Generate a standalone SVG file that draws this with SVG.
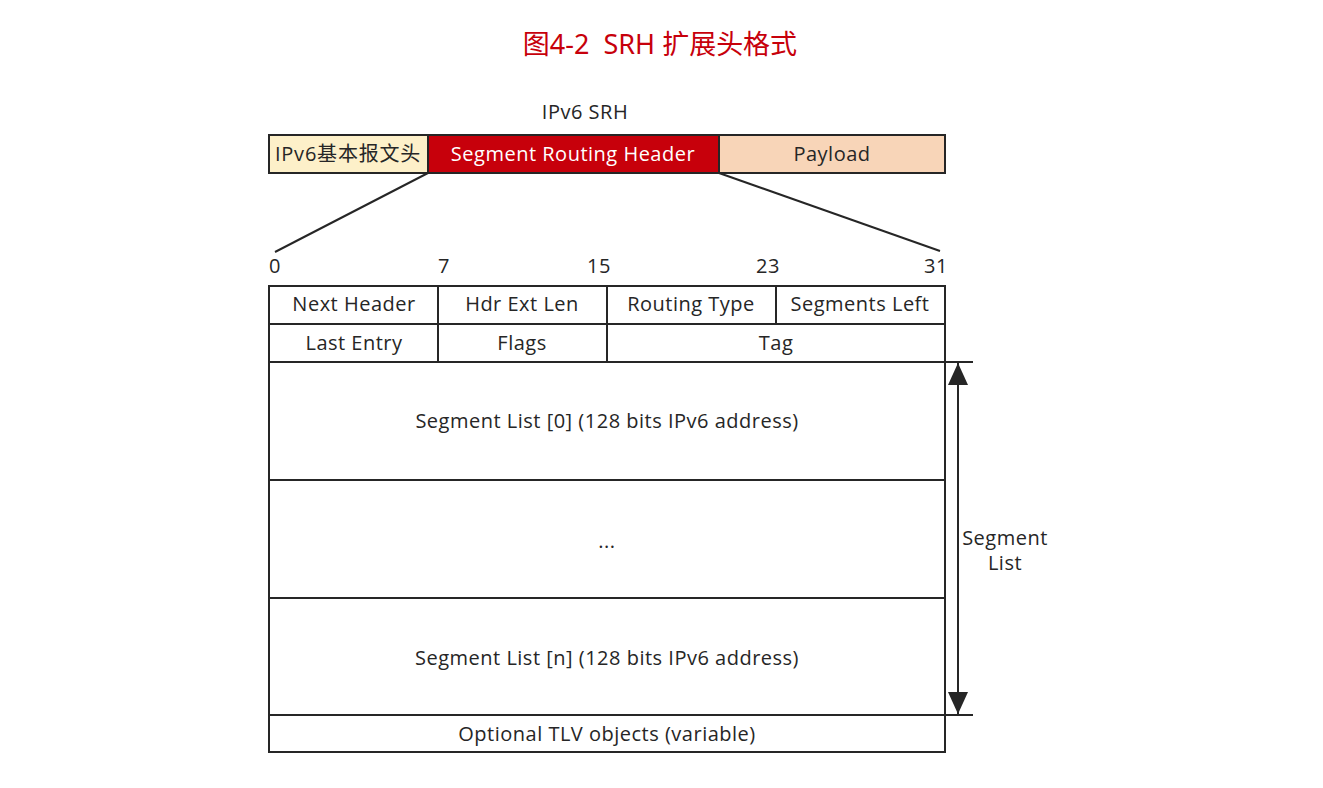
<svg xmlns="http://www.w3.org/2000/svg" width="1323" height="788" viewBox="0 0 1323 788">
<style>
text{font-family:"Open Sans","Noto Sans","Noto Sans CJK SC",sans-serif;font-size:20px;letter-spacing:0.5px;fill:#262626;text-anchor:middle}
.title{font-size:27px;letter-spacing:0;fill:#c7000b;font-family:"Noto Sans","Noto Sans CJK SC",sans-serif}
.cell{fill:#fff;stroke:#262626;stroke-width:2}
.ln{stroke:#262626;stroke-width:2;fill:none}
</style>
<defs>
<marker id="ah2" markerWidth="22" markerHeight="22" refX="22" refY="11" orient="auto-start-reverse" markerUnits="userSpaceOnUse" viewBox="0 0 22 22">
<path d="M0,1 L22,11 L0,21 Z" fill="#262626"/>
</marker>
</defs>
<text class="title" x="660" y="54" xml:space="preserve">图4-2  SRH 扩展头格式</text>
<text x="585" y="119">IPv6 SRH</text>
<g id="packet">
<rect x="269" y="135" width="159" height="38" fill="#fdf0c9" stroke="#262626" stroke-width="2"/>
<text x="348" y="161" style="letter-spacing:0.8px">IPv6基本报文头</text>
<rect x="428" y="135" width="291" height="38" fill="#c7000b" stroke="#262626" stroke-width="2"/>
<text x="573" y="161" style="fill:#fff">Segment Routing Header</text>
<rect x="719" y="135" width="226" height="38" fill="#f8d5b8" stroke="#262626" stroke-width="2"/>
<text x="832" y="161">Payload</text>
</g>
<g id="connectors">
<line class="ln" x1="428" y1="173" x2="275" y2="252"/>
<line class="ln" x1="719" y1="173" x2="940" y2="251"/>
<line class="ln" x1="945" y1="362" x2="973" y2="362"/>
<line class="ln" x1="945" y1="715" x2="973" y2="715"/>
<line class="ln" x1="958" y1="363" x2="958" y2="714" marker-start="url(#ah2)" marker-end="url(#ah2)"/>
</g>
<g id="bits">
<text x="275" y="273">0</text>
<text x="444" y="273">7</text>
<text x="599" y="273">15</text>
<text x="768" y="273">23</text>
<text x="936" y="273">31</text>
</g>
<g id="row1">
<rect class="cell" x="269" y="286" width="169" height="38"/>
<text x="354" y="311">Next Header</text>
<rect class="cell" x="438" y="286" width="169" height="38"/>
<text x="522" y="311">Hdr Ext Len</text>
<rect class="cell" x="607" y="286" width="169" height="38"/>
<text x="691" y="311">Routing Type</text>
<rect class="cell" x="776" y="286" width="169" height="38"/>
<text x="860" y="311">Segments Left</text>
</g>
<g id="row2">
<rect class="cell" x="269" y="324" width="169" height="38"/>
<text x="354" y="350">Last Entry</text>
<rect class="cell" x="438" y="324" width="169" height="38"/>
<text x="522" y="350">Flags</text>
<rect class="cell" x="607" y="324" width="338" height="38"/>
<text x="776" y="350">Tag</text>
</g>
<g id="seg0">
<rect class="cell" x="269" y="362" width="676" height="118"/>
<text x="607" y="428">Segment List [0] (128 bits IPv6 address)</text>
</g>
<g id="segdots">
<rect class="cell" x="269" y="480" width="676" height="118"/>
<text x="607" y="548">...</text>
</g>
<g id="segn">
<rect class="cell" x="269" y="598" width="676" height="117"/>
<text x="607" y="665">Segment List [n] (128 bits IPv6 address)</text>
</g>
<g id="tlv">
<rect class="cell" x="269" y="715" width="676" height="37"/>
<text x="607" y="741">Optional TLV objects (variable)</text>
</g>
<g id="seglist-label">
<text x="1005" y="545">Segment</text>
<text x="1005" y="570">List</text>
</g>
</svg>
